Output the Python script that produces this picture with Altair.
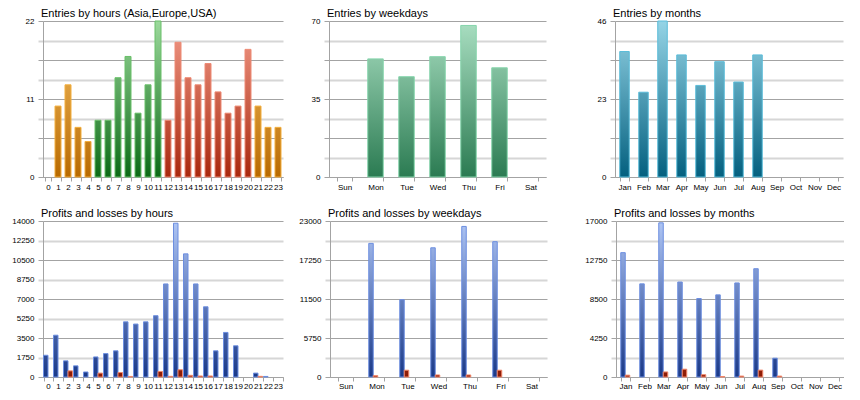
import altair as alt
import pandas as pd

# ---------------- data ----------------
hour_labels = ["0", "1", "2", "3", "4", "5", "6", "7", "8", "9", "10", "11",
               "12", "13", "14", "15", "16", "17", "18", "19", "20", "21", "22", "23"]
hour_regions = ["Asia", "Asia", "Asia", "Asia", "Asia",
                "Europe", "Europe", "Europe", "Europe", "Europe", "Europe", "Europe",
                "USA", "USA", "USA", "USA", "USA", "USA", "USA", "USA", "USA",
                "Asia", "Asia", "Asia"]
hour_entries = [0, 10, 13, 7, 5, 8, 8, 14, 17, 9, 13, 22, 8, 19, 14, 13, 16, 12, 9, 10, 18, 10, 7, 7]

weekday_labels = ["Sun", "Mon", "Tue", "Wed", "Thu", "Fri", "Sat"]
weekday_entries = [0, 53, 45, 54, 68, 49, 0]

month_labels = ["Jan", "Feb", "Mar", "Apr", "May", "Jun", "Jul", "Aug", "Sep", "Oct", "Nov", "Dec"]
month_entries = [37, 25, 46, 36, 27, 34, 28, 36, 0, 0, 0, 0]

hour_profits = [1950, 3750, 1450, 1000, 450, 1800, 2100, 2350, 4950, 4750, 4950, 5500,
                8350, 13800, 11050, 8350, 6300, 2350, 4000, 2800, 0, 350, 50, 0]
hour_losses = [0, 0, 550, 0, 0, 350, 0, 400, 50, 0, 0, 500,
               60, 650, 150, 90, 90, 0, 0, 0, 0, 60, 0, 0]

weekday_profits = [0, 19700, 11400, 19050, 22200, 19950, 0]
weekday_losses = [0, 200, 1000, 300, 300, 1000, 0]

month_profits = [13550, 10150, 16800, 10350, 8550, 8950, 10250, 11800, 2050, 0, 0, 0]
month_losses = [200, 0, 550, 850, 250, 50, 100, 750, 100, 0, 0, 0]

# axis maxima (top tick labels)
top_hour_entries = 22
top_weekday_entries = 70
top_month_entries = 46
top_hour_pl = 14000
top_weekday_pl = 23000
top_month_pl = 17000

# ---------------- style ----------------
FONT = "Liberation Sans"
GRID_DARK = "#A3A3A3"
GRID_LIGHT = "#D6D6D6"
PLOT_H = 156

REGION_COLORS = {
    "Asia": ("#F9C46A", "#B86A00", "#F3AE3C"),
    "Europe": ("#9CD99C", "#0C6A16", "#68C068"),
    "USA": ("#F39C8A", "#A8280E", "#EE8A74"),
}
WEEKDAY_COLORS = ("#AADFC2", "#2B7B52", "#86D5AC")
MONTH_COLORS = ("#95D4E6", "#04607F", "#5ABCD9")
PROFIT_COLORS = ("#AFC6F5", "#1A3988", "#6C8EE0")
LOSS_COLORS = ("#F2957E", "#8C1A04", "#F0866A")


def grad(light, dark, top, v):
    # gradient spanning the whole plot height, expressed in the bar's own box
    return alt.Gradient(
        gradient="linear",
        stops=[alt.GradientStop(color=light, offset=0),
               alt.GradientStop(color=dark, offset=1)],
        x1=0, x2=0, y1=1 - top / v, y2=1,
    )


def y_axis(top, extent, label_eighths):
    quarter = top / 4
    step = top * label_eighths / 8
    test = f"abs(datum.value % {quarter}) < 1e-6"
    return alt.Axis(
        values=[top * i / 8 for i in range(9)],
        labelExpr=f"abs(datum.value % {step}) < 1e-6 ? format(datum.value, 'd') : ''",
        grid=True,
        gridColor={"condition": {"test": test, "value": GRID_DARK}, "value": GRID_LIGHT},
        gridWidth={"condition": {"test": test, "value": 1}, "value": 2},
        tickColor={"condition": {"test": test, "value": GRID_DARK}, "value": GRID_LIGHT},
        tickWidth={"condition": {"test": test, "value": 1}, "value": 2},
        tickSize=5,
        domainColor=GRID_DARK,
        labelFont=FONT, labelFontSize=8, labelColor="#000000", labelPadding=4,
        minExtent=extent, maxExtent=extent, title=None,
    )


def x_axis(pad=2):
    return alt.Axis(
        tickBand="extent", tickSize=4, tickColor=GRID_DARK, domainColor=GRID_DARK,
        labelAngle=0, labelFont=FONT, labelFontSize=8, labelColor="#000000",
        labelPadding=pad, labelOverlap=False, grid=False, title=None,
        minExtent=13, maxExtent=15,
    )


def title(text):
    return alt.TitleParams(text=text, anchor="start", frame="group", fontSize=11,
                           font=FONT, fontWeight="normal", color="#000000",
                           offset=-2, dx=-2)


def entries_chart(ttl, cats, values, colors, top, pad, width, extent, label_eighths):
    df = pd.DataFrame({"cat": cats, "value": values})
    xs = alt.Scale(domain=cats, paddingInner=pad, paddingOuter=pad / 2)
    ys = alt.Scale(domain=[0, top], nice=False)
    xa = x_axis()
    ya = y_axis(top, extent, label_eighths)
    layers = [alt.Chart().mark_bar(opacity=0).encode(
        x=alt.X("cat:N", scale=xs, axis=xa, sort=None),
        y=alt.Y("value:Q", scale=ys, axis=ya))]
    for c, v, col in zip(cats, values, colors):
        if v <= 0:
            continue
        light, dark, stroke = col
        layers.append(
            alt.Chart().transform_filter(alt.datum.cat == c)
            .mark_bar(fill=grad(light, dark, top, v), stroke=stroke, strokeWidth=1)
            .encode(x=alt.X("cat:N", scale=xs, axis=xa, sort=None),
                    y=alt.Y("value:Q", scale=ys, axis=ya)))
    return alt.layer(*layers, data=df).properties(width=width, height=PLOT_H, title=title(ttl))


def pl_chart(ttl, cats, profits, losses, top, pad, width, extent, label_eighths):
    df = pd.DataFrame({
        "cat": cats + cats,
        "series": ["Profit"] * len(cats) + ["Loss"] * len(cats),
        "value": profits + losses,
    })
    xs = alt.Scale(domain=cats, paddingInner=pad, paddingOuter=pad / 2)
    ys = alt.Scale(domain=[0, top], nice=False)
    os_ = alt.Scale(domain=["Profit", "Loss"], paddingInner=0, paddingOuter=0)
    xa = x_axis(pad=1)
    ya = y_axis(top, extent, label_eighths)
    layers = [alt.Chart().mark_bar(opacity=0).encode(
        x=alt.X("cat:N", scale=xs, axis=xa, sort=None),
        xOffset=alt.XOffset("series:N", scale=os_),
        y=alt.Y("value:Q", scale=ys, axis=ya))]
    for series, vals, col in (("Profit", profits, PROFIT_COLORS), ("Loss", losses, LOSS_COLORS)):
        light, dark, stroke = col
        for c, v in zip(cats, vals):
            if v <= 0:
                continue
            layers.append(
                alt.Chart().transform_filter((alt.datum.cat == c) & (alt.datum.series == series))
                .mark_bar(fill=grad(light, dark, top, v), stroke=stroke, strokeWidth=1)
                .encode(x=alt.X("cat:N", scale=xs, axis=xa, sort=None),
                        xOffset=alt.XOffset("series:N", scale=os_),
                        y=alt.Y("value:Q", scale=ys, axis=ya)))
    return alt.layer(*layers, data=df).properties(width=width, height=PLOT_H, title=title(ttl))


c1 = entries_chart("Entries by hours (Asia,Europe,USA)", hour_labels, hour_entries,
                   [REGION_COLORS[r] for r in hour_regions], top_hour_entries, 0.4, 240, 35, 4)
c2 = entries_chart("Entries by weekdays", weekday_labels, weekday_entries,
                   [WEEKDAY_COLORS] * 7, top_weekday_entries, 0.5, 217, 35, 4)
c3 = entries_chart("Entries by months", month_labels, month_entries,
                   [MONTH_COLORS] * 12, top_month_entries, 0.5, 228, 58, 4)

c4 = pl_chart("Profits and losses by hours", hour_labels, hour_profits, hour_losses,
              top_hour_pl, 0.1, 240, 35, 1)
c5 = pl_chart("Profits and losses by weekdays", weekday_labels, weekday_profits, weekday_losses,
              top_weekday_pl, 0.5, 217, 35, 2)
c6 = pl_chart("Profits and losses by months", month_labels, month_profits, month_losses,
              top_month_pl, 0.5, 228, 58, 2)

chart = alt.vconcat(
    alt.hconcat(c1, c2, c3, spacing=11),
    alt.hconcat(c4, c5, c6, spacing=11),
    spacing=17,
).properties(
    padding={"left": 0, "top": 0, "right": 0, "bottom": 0},
    background="white",
).configure_view(stroke=None)

chart.save("out.html", embed_options={"renderer": "svg", "actions": False})
